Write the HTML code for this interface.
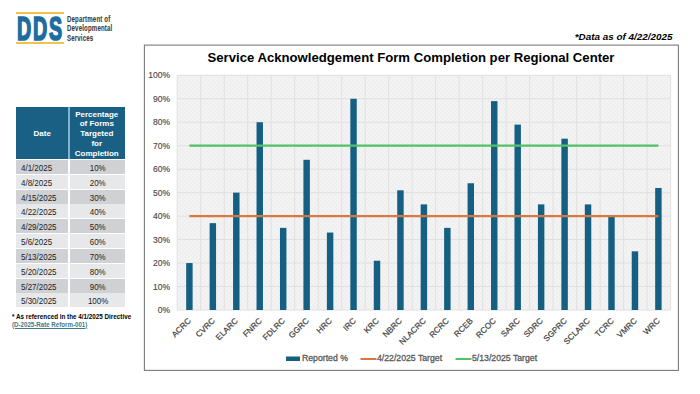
<!DOCTYPE html>
<html><head><meta charset="utf-8">
<style>
html,body{margin:0;padding:0;background:#fff;width:700px;height:394px;overflow:hidden;position:relative;font-family:"Liberation Sans",sans-serif;}
.abs{position:absolute;}
.yl{position:absolute;left:130px;width:40px;text-align:right;font-size:8.5px;line-height:12px;color:#4a4a4a;-webkit-text-stroke:0.15px #4a4a4a;}
.xl{position:absolute;width:60px;text-align:right;font-size:8.2px;line-height:10px;color:#404040;-webkit-text-stroke:0.2px #404040;transform-origin:100% 50%;transform:rotate(-45deg);white-space:nowrap;}
.row{position:absolute;left:16px;width:109px;height:14.84px;}
.row .c1{position:absolute;left:0;width:52.3px;top:0.9px;height:13.94px;line-height:16.3px;font-size:8.7px;color:#222;}
.row .c1 span{position:absolute;left:4.9px;transform-origin:0 50%;transform:scaleX(0.92);white-space:nowrap}
.row .c2 span{display:inline-block;transform-origin:50% 50%;transform:scaleX(0.92);white-space:nowrap}
.row .c2{position:absolute;left:54.3px;width:54.7px;text-align:center;top:0.9px;height:13.94px;line-height:16.3px;font-size:8.7px;color:#222;}
</style></head><body>
<!-- logo -->
<div class="abs" style="left:16px;top:11.8px;width:48px;height:2.1px;background:#f0c24e"></div>
<div class="abs" style="left:16px;top:41.9px;width:48px;height:2.1px;background:#f0c24e"></div>
<div class="abs" id="dds" style="left:16.8px;top:11.9px;font-size:32.5px;font-weight:bold;color:#1f6c9e;line-height:34px;transform-origin:0 0;transform:scaleX(0.605);letter-spacing:2.9px;-webkit-text-stroke:1.7px #1f6c9e">DDS</div>
<div class="abs" id="dept" style="left:67px;top:14.8px;font-size:9.3px;font-weight:bold;color:#3d3d3d;line-height:9.5px;transform-origin:0 0;transform:scaleX(0.655);letter-spacing:0.25px;-webkit-text-stroke:0.1px #3d3d3d;white-space:nowrap">Department of<br>Developmental<br>Services</div>
<div class="abs" id="asof" style="left:540px;top:31px;width:132.5px;text-align:right;font-size:9.9px;font-weight:bold;font-style:italic;color:#000;line-height:11px;white-space:nowrap">*Data as of 4/22/2025</div>
<!-- table -->
<div class="abs" style="left:16px;top:107.2px;width:109px;height:51.7px;background:#1a5f84"></div>
<div class="abs" style="left:68px;top:107.2px;width:2.1px;height:51.7px;background:#82b2cd"></div>
<div class="abs" id="hdate" style="left:16px;top:128.5px;width:52.5px;text-align:center;font-size:8px;font-weight:bold;color:#fff;line-height:10px">Date</div>
<div class="abs" id="hpct" style="left:69px;top:109.7px;width:55.5px;text-align:center;font-size:8px;font-weight:bold;color:#fff;line-height:9.7px">Percentage<br>of Forms<br>Targeted<br>for<br>Completion</div>
<div class="row" style="top:159.00px"><div class="c1" style="background:#cfd1d5"><span>4/1/2025</span></div><div class="c2" style="background:#cfd1d5"><span>10%</span></div></div><div class="row" style="top:173.84px"><div class="c1" style="background:#e7e8ea"><span>4/8/2025</span></div><div class="c2" style="background:#e7e8ea"><span>20%</span></div></div><div class="row" style="top:188.68px"><div class="c1" style="background:#cfd1d5"><span>4/15/2025</span></div><div class="c2" style="background:#cfd1d5"><span>30%</span></div></div><div class="row" style="top:203.52px"><div class="c1" style="background:#e7e8ea"><span>4/22/2025</span></div><div class="c2" style="background:#e7e8ea"><span>40%</span></div></div><div class="row" style="top:218.36px"><div class="c1" style="background:#cfd1d5"><span>4/29/2025</span></div><div class="c2" style="background:#cfd1d5"><span>50%</span></div></div><div class="row" style="top:233.20px"><div class="c1" style="background:#e7e8ea"><span>5/6/2025</span></div><div class="c2" style="background:#e7e8ea"><span>60%</span></div></div><div class="row" style="top:248.04px"><div class="c1" style="background:#cfd1d5"><span>5/13/2025</span></div><div class="c2" style="background:#cfd1d5"><span>70%</span></div></div><div class="row" style="top:262.88px"><div class="c1" style="background:#e7e8ea"><span>5/20/2025</span></div><div class="c2" style="background:#e7e8ea"><span>80%</span></div></div><div class="row" style="top:277.72px"><div class="c1" style="background:#cfd1d5"><span>5/27/2025</span></div><div class="c2" style="background:#cfd1d5"><span>90%</span></div></div><div class="row" style="top:292.56px"><div class="c1" style="background:#e7e8ea"><span>5/30/2025</span></div><div class="c2" style="background:#e7e8ea"><span>100%</span></div></div>
<div class="abs" id="fn1" style="left:12px;top:312.8px;font-size:7px;font-weight:bold;color:#000;line-height:8px;white-space:nowrap;transform-origin:0 0;transform:scaleX(0.9)">* As referenced in the 4/1/2025 Directive</div>
<div class="abs" id="fn2" style="left:11.5px;top:320.6px;font-size:7px;font-weight:bold;color:#467886;line-height:8px;text-decoration:underline;white-space:nowrap;transform-origin:0 0;transform:scaleX(0.88)">(D-2025-Rate Reform-001)</div>
<!-- chart -->
<svg class="abs" style="left:0;top:0" width="700" height="394" viewBox="0 0 700 394">
<defs><pattern id="hatch" width="4" height="4" patternUnits="userSpaceOnUse"><rect width="2" height="2" fill="#efefef"/><rect x="2" y="2" width="2" height="2" fill="#efefef"/></pattern></defs>
<rect x="177.2" y="75.3" width="493.40000000000003" height="234.7" fill="#f3f3f3"/><rect x="177.2" y="75.3" width="493.40000000000003" height="234.7" fill="url(#hatch)"/><line x1="177.2" x2="670.6" y1="75.30" y2="75.30" stroke="#e0e0e0" stroke-width="1"/><line x1="177.2" x2="670.6" y1="98.77" y2="98.77" stroke="#e0e0e0" stroke-width="1"/><line x1="177.2" x2="670.6" y1="122.24" y2="122.24" stroke="#e0e0e0" stroke-width="1"/><line x1="177.2" x2="670.6" y1="145.71" y2="145.71" stroke="#e0e0e0" stroke-width="1"/><line x1="177.2" x2="670.6" y1="169.18" y2="169.18" stroke="#e0e0e0" stroke-width="1"/><line x1="177.2" x2="670.6" y1="192.65" y2="192.65" stroke="#e0e0e0" stroke-width="1"/><line x1="177.2" x2="670.6" y1="216.12" y2="216.12" stroke="#e0e0e0" stroke-width="1"/><line x1="177.2" x2="670.6" y1="239.59" y2="239.59" stroke="#e0e0e0" stroke-width="1"/><line x1="177.2" x2="670.6" y1="263.06" y2="263.06" stroke="#e0e0e0" stroke-width="1"/><line x1="177.2" x2="670.6" y1="286.53" y2="286.53" stroke="#e0e0e0" stroke-width="1"/><line x1="177.2" x2="670.6" y1="310.00" y2="310.00" stroke="#e0e0e0" stroke-width="1"/><line x1="177.20" x2="177.20" y1="75.3" y2="310.0" stroke="#e0e0e0" stroke-width="1"/><line x1="200.70" x2="200.70" y1="75.3" y2="310.0" stroke="#e0e0e0" stroke-width="1"/><line x1="224.19" x2="224.19" y1="75.3" y2="310.0" stroke="#e0e0e0" stroke-width="1"/><line x1="247.69" x2="247.69" y1="75.3" y2="310.0" stroke="#e0e0e0" stroke-width="1"/><line x1="271.18" x2="271.18" y1="75.3" y2="310.0" stroke="#e0e0e0" stroke-width="1"/><line x1="294.68" x2="294.68" y1="75.3" y2="310.0" stroke="#e0e0e0" stroke-width="1"/><line x1="318.17" x2="318.17" y1="75.3" y2="310.0" stroke="#e0e0e0" stroke-width="1"/><line x1="341.67" x2="341.67" y1="75.3" y2="310.0" stroke="#e0e0e0" stroke-width="1"/><line x1="365.16" x2="365.16" y1="75.3" y2="310.0" stroke="#e0e0e0" stroke-width="1"/><line x1="388.66" x2="388.66" y1="75.3" y2="310.0" stroke="#e0e0e0" stroke-width="1"/><line x1="412.15" x2="412.15" y1="75.3" y2="310.0" stroke="#e0e0e0" stroke-width="1"/><line x1="435.65" x2="435.65" y1="75.3" y2="310.0" stroke="#e0e0e0" stroke-width="1"/><line x1="459.14" x2="459.14" y1="75.3" y2="310.0" stroke="#e0e0e0" stroke-width="1"/><line x1="482.64" x2="482.64" y1="75.3" y2="310.0" stroke="#e0e0e0" stroke-width="1"/><line x1="506.13" x2="506.13" y1="75.3" y2="310.0" stroke="#e0e0e0" stroke-width="1"/><line x1="529.63" x2="529.63" y1="75.3" y2="310.0" stroke="#e0e0e0" stroke-width="1"/><line x1="553.12" x2="553.12" y1="75.3" y2="310.0" stroke="#e0e0e0" stroke-width="1"/><line x1="576.62" x2="576.62" y1="75.3" y2="310.0" stroke="#e0e0e0" stroke-width="1"/><line x1="600.11" x2="600.11" y1="75.3" y2="310.0" stroke="#e0e0e0" stroke-width="1"/><line x1="623.61" x2="623.61" y1="75.3" y2="310.0" stroke="#e0e0e0" stroke-width="1"/><line x1="647.10" x2="647.10" y1="75.3" y2="310.0" stroke="#e0e0e0" stroke-width="1"/><line x1="670.60" x2="670.60" y1="75.3" y2="310.0" stroke="#e0e0e0" stroke-width="1"/><rect x="186.18" y="263.06" width="6.45" height="46.94" fill="#156082"/><rect x="209.62" y="223.16" width="6.45" height="86.84" fill="#156082"/><rect x="233.08" y="192.65" width="6.45" height="117.35" fill="#156082"/><rect x="256.52" y="122.24" width="6.45" height="187.76" fill="#156082"/><rect x="279.97" y="227.86" width="6.45" height="82.14" fill="#156082"/><rect x="303.42" y="159.79" width="6.45" height="150.21" fill="#156082"/><rect x="326.88" y="232.55" width="6.45" height="77.45" fill="#156082"/><rect x="350.32" y="98.77" width="6.45" height="211.23" fill="#156082"/><rect x="373.77" y="260.71" width="6.45" height="49.29" fill="#156082"/><rect x="397.22" y="190.30" width="6.45" height="119.70" fill="#156082"/><rect x="420.67" y="204.39" width="6.45" height="105.61" fill="#156082"/><rect x="444.12" y="227.86" width="6.45" height="82.14" fill="#156082"/><rect x="467.57" y="183.26" width="6.45" height="126.74" fill="#156082"/><rect x="491.02" y="101.12" width="6.45" height="208.88" fill="#156082"/><rect x="514.48" y="124.59" width="6.45" height="185.41" fill="#156082"/><rect x="537.92" y="204.39" width="6.45" height="105.61" fill="#156082"/><rect x="561.38" y="138.67" width="6.45" height="171.33" fill="#156082"/><rect x="584.82" y="204.39" width="6.45" height="105.61" fill="#156082"/><rect x="608.27" y="216.12" width="6.45" height="93.88" fill="#156082"/><rect x="631.73" y="251.32" width="6.45" height="58.68" fill="#156082"/><rect x="655.17" y="187.96" width="6.45" height="122.04" fill="#156082"/><line x1="189.40" x2="658.40" y1="216.12" y2="216.12" stroke="#D6783F" stroke-width="2.2"/><line x1="189.40" x2="658.40" y1="145.71" y2="145.71" stroke="#52C268" stroke-width="2.2"/><rect x="286" y="356.5" width="14" height="4.5" fill="#156082"/><line x1="360.5" x2="376.5" y1="359" y2="359" stroke="#D6783F" stroke-width="2"/><line x1="455.5" x2="471.5" y1="359" y2="359" stroke="#52C268" stroke-width="2"/><rect x="144.4" y="45.1" width="534" height="325.3" fill="none" stroke="#7a7a7a" stroke-width="1.1"/>
</svg>
<div class="abs" id="title" style="left:144px;top:50.2px;width:534px;text-align:center;font-size:13.15px;font-weight:bold;color:#000;line-height:16px;white-space:nowrap">Service Acknowledgement Form Completion per Regional Center</div>
<div class="yl" style="top:304.0px">0%</div><div class="yl" style="top:280.5px">10%</div><div class="yl" style="top:257.1px">20%</div><div class="yl" style="top:233.6px">30%</div><div class="yl" style="top:210.1px">40%</div><div class="yl" style="top:186.7px">50%</div><div class="yl" style="top:163.2px">60%</div><div class="yl" style="top:139.7px">70%</div><div class="yl" style="top:116.2px">80%</div><div class="yl" style="top:92.8px">90%</div><div class="yl" style="top:69.3px">100%</div>
<div class="xl" style="left:130.4px;top:315.3px">ACRC</div><div class="xl" style="left:153.8px;top:315.3px">CVRC</div><div class="xl" style="left:177.3px;top:315.3px">ELARC</div><div class="xl" style="left:200.8px;top:315.3px">FNRC</div><div class="xl" style="left:224.2px;top:315.3px">FDLRC</div><div class="xl" style="left:247.6px;top:315.3px">GGRC</div><div class="xl" style="left:271.1px;top:315.3px">HRC</div><div class="xl" style="left:294.6px;top:315.3px">IRC</div><div class="xl" style="left:318.0px;top:315.3px">KRC</div><div class="xl" style="left:341.4px;top:315.3px">NBRC</div><div class="xl" style="left:364.9px;top:315.3px">NLACRC</div><div class="xl" style="left:388.4px;top:315.3px">RCRC</div><div class="xl" style="left:411.8px;top:315.3px">RCEB</div><div class="xl" style="left:435.2px;top:315.3px">RCOC</div><div class="xl" style="left:458.7px;top:315.3px">SARC</div><div class="xl" style="left:482.1px;top:315.3px">SDRC</div><div class="xl" style="left:505.6px;top:315.3px">SGPRC</div><div class="xl" style="left:529.0px;top:315.3px">SCLARC</div><div class="xl" style="left:552.5px;top:315.3px">TCRC</div><div class="xl" style="left:576.0px;top:315.3px">VMRC</div><div class="xl" style="left:599.4px;top:315.3px">WRC</div>
<div class="abs" id="lg1" style="left:302px;top:353px;font-size:8.7px;color:#595959;line-height:10px;white-space:nowrap;-webkit-text-stroke:0.3px #595959">Reported %</div>
<div class="abs" id="lg2" style="left:377px;top:353px;font-size:8.7px;color:#595959;line-height:10px;white-space:nowrap;-webkit-text-stroke:0.3px #595959">4/22/2025 Target</div>
<div class="abs" id="lg3" style="left:472px;top:353px;font-size:8.7px;color:#595959;line-height:10px;white-space:nowrap;-webkit-text-stroke:0.3px #595959">5/13/2025 Target</div>
</body></html>
